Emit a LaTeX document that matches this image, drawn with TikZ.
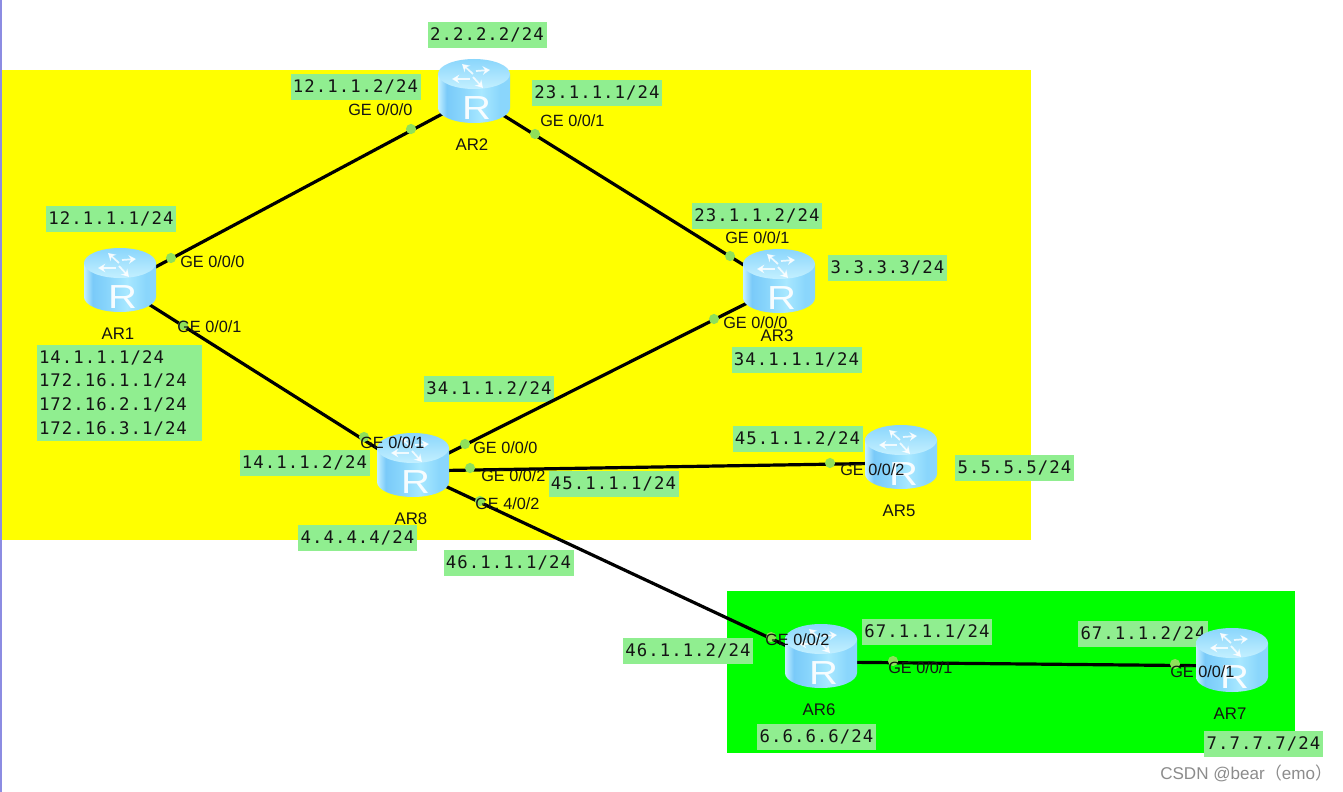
\documentclass[tikz,border=0pt]{standalone}
\usepackage{fontspec}
\setmainfont{Liberation Sans}
\newfontfamily\ipfont[LetterSpace=5.9]{DejaVu Sans Mono}
\newfontfamily\cjkfont{Noto Sans CJK SC}
\usetikzlibrary{calc,arrows.meta}
\pgfdeclarelayer{zones}\pgfdeclarelayer{boxes}\pgfdeclarelayer{links}\pgfdeclarelayer{top}
\pgfsetlayers{zones,boxes,links,main,top}
\definecolor{zoneyellow}{HTML}{FFFF00}
\definecolor{zonegreen}{HTML}{00FF00}
\definecolor{ipgreen}{HTML}{90EE90}
\definecolor{dotgreen}{HTML}{8FE05A}
\definecolor{txt}{HTML}{141414}
\definecolor{rb1}{HTML}{C4F0FF}\definecolor{rb2}{HTML}{7ACAF9}\definecolor{rb3}{HTML}{8AD6FC}\definecolor{rb4}{HTML}{A8E8FF}
\pgfdeclarehorizontalshading{routerbody}{100bp}{
  color(0bp)=(rb1); color(25bp)=(rb1); color(31bp)=(rb2); color(42bp)=(rb3); color(55bp)=(rb4); color(68bp)=(rb3); color(75bp)=(rb3); color(100bp)=(rb3)}
\pgfdeclareverticalshading{routertop}{100bp}{
  color(0bp)=(rb1); color(25bp)=(rb1); color(75bp)=(rb3); color(100bp)=(rb3)}
\tikzset{
  x=0.75pt,y=-0.75pt,
  ip/.style={fill=ipgreen,text=txt,inner sep=0pt,minimum width=97.5pt,minimum height=19.5pt,font=\ipfont\fontsize{13}{17.8}\selectfont},
  ipshort/.style={ip,minimum width=89.25pt},
  ipmulti/.style={fill=ipgreen,text=txt,inner xsep=1.5pt,inner ysep=0pt,text width=120.75pt,minimum height=72pt,align=left,font=\ipfont\fontsize{13}{17.8}\selectfont},
  routerbox/.style={inner sep=0pt,minimum width=54pt,minimum height=48pt},
  arname/.style={inner sep=0pt,text=txt,font=\fontsize{12.6}{14}\selectfont},
  portname/.style={inner sep=0pt,anchor=west,text=txt,font=\fontsize{12.2}{14}\selectfont},
  portdot/.style={circle,fill=dotgreen,inner sep=0pt,minimum size=7.6pt},
  link/.style={draw=black,line width=2.4pt},
  zone/.style={inner sep=0pt,anchor=north west},
  rarrow/.style={white,line width=1.3pt,opacity=.8,-{Stealth[length=5.5pt,width=6.5pt]}},
}
% router: named node + its drawing
\newcommand{\router}[2]{%
  \node[routerbox] (#1) at (#2) {};
  \begin{scope}[shift={(#1.center)}]
    \path[shading=routerbody,shading angle=0]
      (-36,-17) -- (-36,17) arc[start angle=180,end angle=360,x radius=27pt,y radius=11.25pt] -- (36,-17) -- cycle;
    \path[shading=routertop] (0,-17) ellipse[x radius=27pt,y radius=11.25pt];
    \begin{scope}[shift={(0,-16)}]
      \draw[rarrow] (-1,-1) -- (-12,-11);
      \draw[rarrow] (2,-4) -- (16,-5);
      \draw[rarrow] (-1,2) -- (9,13);
      \draw[rarrow] (-4,4) -- (-22,4);
    \end{scope}
    \node[inner sep=0pt,text=white,opacity=.92,xscale=1.2,font=\fontsize{25}{25}\selectfont] at (2.5,17) {R};
  \end{scope}
}
\newcommand{\port}[6]{% name, dot x,y, label x,y, text
  \node[portdot] (#1) at (#2,#3) {};
  \begin{pgfonlayer}{top}
    \node[portname] (#1t) at (#4,#5) {#6};
  \end{pgfonlayer}
}
\begin{document}
\begin{tikzpicture}
\useasboundingbox (0,0) rectangle (1343,792);
\begin{pgfonlayer}{zones}
  \fill[white] (0,0) rectangle (1343,792);
  \node[zone,fill=zoneyellow,minimum width=773.25pt,minimum height=352.5pt] (zoneY) at (0,70) {};
  \node[zone,fill=zonegreen,minimum width=426pt,minimum height=121.5pt] (zoneG) at (727,591) {};
  \fill[black!25!blue!45!white] (0,0) rectangle (2,792);
\end{pgfonlayer}

\router{ar1}{120,280}
\router{ar2}{474,91}
\router{ar3}{779,281}
\router{ar8}{413,465}
\router{ar5}{901,457}
\router{ar6}{821,656}
\router{ar7}{1232,660}

\begin{pgfonlayer}{links}
  \draw[link] ([yshift=-4.5pt]ar1.center) -- ([yshift=-4.5pt]ar2.center);
  \draw[link] ([yshift=-4.5pt]ar2.center) -- ([yshift=-4.5pt]ar3.center);
  \draw[link] ([yshift=-4.5pt]ar1.center) -- ([yshift=-4.5pt]ar8.center);
  \draw[link] ([yshift=-4.5pt]ar8.center) -- ([yshift=-4.5pt]ar3.center);
  \draw[link] ([yshift=-4.5pt]ar8.center) -- ([yshift=-4.5pt]ar5.center);
  \draw[link] ([yshift=-4.5pt]ar8.center) -- ([yshift=-4.5pt]ar6.center);
  \draw[link] ([yshift=-4.5pt]ar6.center) -- ([yshift=-4.5pt]ar7.center);
\end{pgfonlayer}

\node[arname] (n1) at (118,334) {AR1};
\node[arname] (n2) at (472,145) {AR2};
\node[arname] (n3) at (777,336) {AR3};
\node[arname] (n8) at (411,519) {AR8};
\node[arname] (n5) at (899,511) {AR5};
\node[arname] (n6) at (819,710) {AR6};
\node[arname] (n7) at (1230,714) {AR7};

\port{p1a}{171}{258}{180}{262}{GE 0/0/0}
\port{p1b}{183}{325}{177}{327}{GE 0/0/1}
\port{p2a}{411}{129}{348}{110}{GE 0/0/0}
\port{p2b}{535}{134}{540}{121}{GE 0/0/1}
\port{p3a}{730}{256}{725}{238}{GE 0/0/1}
\port{p3b}{714}{319}{723}{323}{GE 0/0/0}
\port{p8a}{364}{437}{360}{443}{GE 0/0/1}
\port{p8b}{465}{444}{473}{448}{GE 0/0/0}
\port{p8c}{470}{468}{481}{476}{GE 0/0/2}
\port{p8d}{480}{501}{475}{504}{GE 4/0/2}
\port{p5a}{830}{463}{840}{470}{GE 0/0/2}
\port{p6a}{771}{637}{765}{640}{GE 0/0/2}
\port{p6b}{893}{661}{888}{668}{GE 0/0/1}
\port{p7a}{1175}{664}{1170}{672}{GE 0/0/1}

\begin{pgfonlayer}{boxes}
  \node[ipshort] (i1) at (487,35) {2.2.2.2/24};
  \node[ip] (i2) at (355.5,87) {12.1.1.2/24};
  \node[ip] (i3) at (597,93) {23.1.1.1/24};
  \node[ip] (i4) at (111,218.5) {12.1.1.1/24};
  \node[ipmulti] (i5) at (119.5,393) {14.1.1.1/24\\172.16.1.1/24\\172.16.2.1/24\\172.16.3.1/24};
  \node[ip] (i6) at (757,216) {23.1.1.2/24};
  \node[ipshort] (i7) at (887.5,268) {3.3.3.3/24};
  \node[ip] (i8) at (796.5,360) {34.1.1.1/24};
  \node[ip] (i9) at (489,389) {34.1.1.2/24};
  \node[ip] (i10) at (797.5,438.5) {45.1.1.2/24};
  \node[ipshort] (i11) at (1014.5,468) {5.5.5.5/24};
  \node[ip] (i12) at (613.5,484) {45.1.1.1/24};
  \node[ip] (i13) at (304.5,463) {14.1.1.2/24};
  \node[ipshort] (i14) at (357.5,538) {4.4.4.4/24};
  \node[ip] (i15) at (508.5,563) {46.1.1.1/24};
  \node[ip] (i16) at (688,651) {46.1.1.2/24};
  \node[ip] (i17) at (927,632) {67.1.1.1/24};
  \node[ip] (i18) at (1143,634) {67.1.1.2/24};
  \node[ipshort] (i19) at (816.5,737) {6.6.6.6/24};
  \node[ipshort] (i20) at (1263.5,744) {7.7.7.7/24};
\end{pgfonlayer}

\node[inner sep=0pt,anchor=west,text=black!45,font=\fontsize{12.8}{14}\selectfont] (wm) at (1160,773) {CSDN @bear{\cjkfont（}emo{\cjkfont）}};
\end{tikzpicture}
\end{document}
